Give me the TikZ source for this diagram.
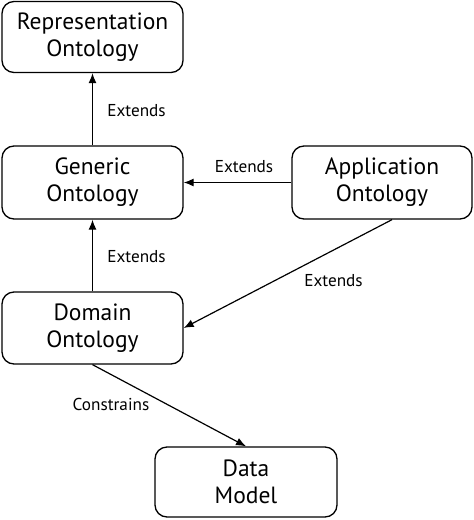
\documentclass[tikz,border=0pt]{standalone}
\usepackage{fontspec}
\setmainfont{PT Sans}
\usetikzlibrary{arrows.meta,calc}
\begin{document}
\begin{tikzpicture}[x=1pt,y=-1pt,
  box/.style={draw,line width=1.3pt,rounded corners=12pt,align=center,font=\fontsize{23.5}{27}\selectfont,inner sep=0pt},
  lbl/.style={font=\fontsize{17.2}{20}\selectfont,inner sep=0pt},
  arr/.style={line width=1.2pt,-{Latex[length=10pt,width=8pt]}}]
\useasboundingbox (0,0) rectangle (474,520);
\node[box,minimum width=181pt,minimum height=71pt] (rep) at (92.5,37) {Representation\\Ontology};
\node[box,minimum width=181pt,minimum height=73pt] (gen) at (92.5,182.5) {Generic\\Ontology};
\node[box,minimum width=180pt,minimum height=73pt] (app) at (382,182.5) {Application\\Ontology};
\node[box,minimum width=181pt,minimum height=72pt] (dom) at (92.5,328) {Domain\\Ontology};
\node[box,minimum width=182pt,minimum height=70pt] (dat) at (246,482) {Data\\Model};
\coordinate (appb) at ($(app.south)+(10,0)$);
\draw[arr] (gen.north) -- (rep.south);
\draw[arr] (dom.north) -- (gen.south);
\draw[arr] (app.west) -- (gen.east);
\draw[arr] (appb) -- (dom.east);
\draw[arr] (dom.south) -- (dat.north);
\node[lbl] (l1) at (136.5,111) {Extends};
\node[lbl] (l2) at (244,167) {Extends};
\node[lbl] (l3) at (136.5,257) {Extends};
\node[lbl] (l4) at (333.5,281) {Extends};
\node[lbl] (l5) at (111,404) {Constrains};
\end{tikzpicture}
\end{document}
